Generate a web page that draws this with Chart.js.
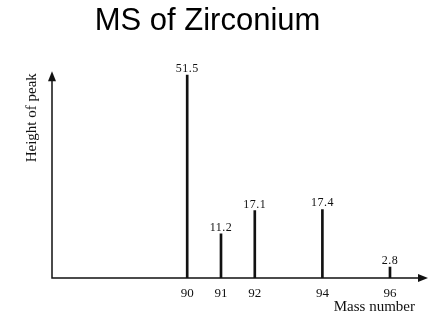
<!DOCTYPE html>
<html>
<head>
<meta charset="utf-8">
<script src="https://cdn.jsdelivr.net/npm/chart.js@4/dist/chart.umd.min.js"></script>
<style>
  html, body { margin: 0; padding: 0; background: #fff; }
  #wrap { width: 437px; height: 316px; }
</style>
</head>
<body>
<div id="wrap"><canvas id="myChart" width="437" height="316"></canvas></div>
<script>
    // Data for the chart
    const massNumbers = [90, 91, 92, 94, 96];
    const peakHeights = [51.5, 11.2, 17.1, 17.4, 2.8];
    const tickLabels = [90, 91, 92, 94, 96];

    const serif = "'Liberation Serif', 'DejaVu Serif', serif";
    const ink = '#111';

    // Arrow axes drawn along the chart area
    const arrowAxes = {
        id: 'arrowAxes',
        afterDatasetsDraw(chart) {
            const { ctx, chartArea } = chart;
            const x0 = chartArea.left, y0 = chartArea.bottom;
            const top = chartArea.top, right = chartArea.right + 13;
            ctx.save();
            ctx.strokeStyle = ink;
            ctx.fillStyle = ink;
            ctx.lineWidth = 1.5;
            ctx.beginPath();
            ctx.moveTo(x0, top + 4);
            ctx.lineTo(x0, y0);
            ctx.lineTo(right - 4, y0);
            ctx.stroke();
            // up arrow
            ctx.beginPath();
            ctx.moveTo(x0, top - 2);
            ctx.lineTo(x0 - 4, top + 8);
            ctx.lineTo(x0 + 4, top + 8);
            ctx.closePath();
            ctx.fill();
            // right arrow
            ctx.beginPath();
            ctx.moveTo(right, y0);
            ctx.lineTo(right - 10, y0 - 4);
            ctx.lineTo(right - 10, y0 + 4);
            ctx.closePath();
            ctx.fill();
            ctx.restore();
        }
    };

    // Value labels above each peak
    const peakLabels = {
        id: 'peakLabels',
        afterDatasetsDraw(chart) {
            const { ctx } = chart;
            const meta = chart.getDatasetMeta(0);
            ctx.save();
            ctx.font = '12px ' + serif;
            ctx.letterSpacing = '0.5px';
            ctx.fillStyle = ink;
            ctx.textAlign = 'center';
            ctx.textBaseline = 'alphabetic';
            meta.data.forEach((bar, i) => {
                ctx.fillText(String(peakHeights[i]), bar.x, bar.y - 3);
            });
            ctx.restore();
        }
    };

    const data = {
        datasets: [{
            label: 'Height of peak',
            data: massNumbers.map((m, i) => ({ x: m, y: peakHeights[i] })),
            backgroundColor: ink,
            barThickness: 2
        }]
    };

    const options = {
        responsive: false,
        animation: false,
        devicePixelRatio: 1,
        layout: { padding: { left: 0, right: 22, top: 0, bottom: 0 } },
        plugins: {
            legend: { display: false },
            tooltip: { enabled: false },
            title: {
                display: true,
                text: 'MS of Zirconium',
                color: '#000',
                font: { family: "'Liberation Sans', Arial, sans-serif", size: 31, weight: 'normal' },
                padding: { top: 3, bottom: 33 }
            }
        },
        scales: {
            x: {
                type: 'linear',
                offset: false,
                min: 86,
                max: 96.74,
                grid: { display: false, offset: false },
                border: { display: false },
                afterBuildTicks: (scale) => {
                    scale.ticks = tickLabels.map(v => ({ value: v }));
                },
                afterFit: (scale) => { scale.height = 38; },
                ticks: {
                    autoSkip: false,
                    maxRotation: 0,
                    padding: 0,
                    color: ink,
                    font: { family: serif, size: 13 }
                },
                title: {
                    display: true,
                    text: 'Mass number',
                    align: 'end',
                    color: ink,
                    font: { family: serif, size: 15 },
                    padding: { top: 0, bottom: 0 }
                }
            },
            y: {
                min: 0,
                max: 52,
                grid: { display: false },
                border: { display: false },
                ticks: { display: false },
                afterFit: (scale) => { scale.width = 52; },
                title: {
                    display: true,
                    text: 'Height of peak',
                    align: 'end',
                    color: ink,
                    font: { family: serif, size: 15 },
                    padding: { top: 23, bottom: 0 }
                }
            }
        }
    };

    // Initialize the chart
    const ctx = document.getElementById('myChart').getContext('2d');
    const myChart = new Chart(ctx, {
        type: 'bar',
        data: data,
        options: options,
        plugins: [arrowAxes, peakLabels]
    });
</script>
</body>
</html>
